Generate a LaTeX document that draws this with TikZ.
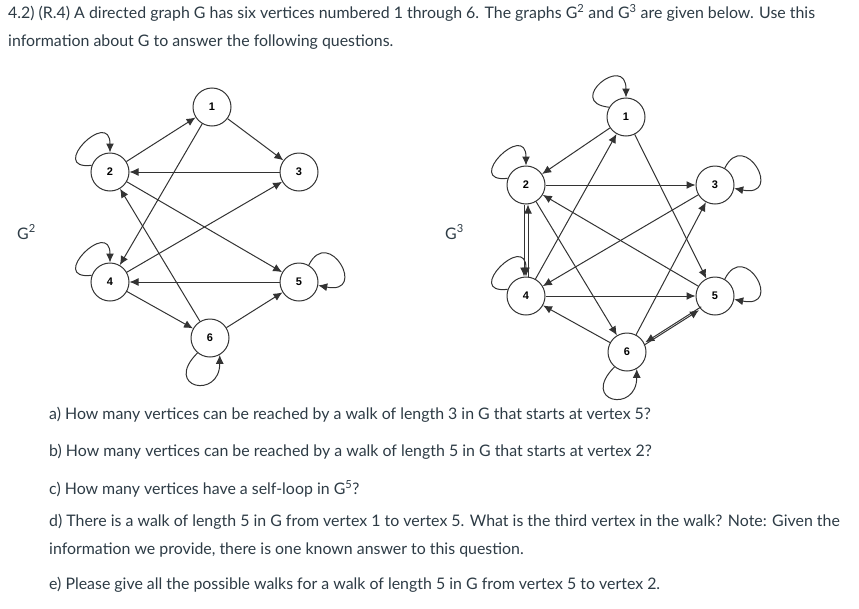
\documentclass[tikz,border=0pt]{standalone}
\usepackage{fontspec}
\setmainfont{Lato}
\newfontfamily\nodefont{Liberation Sans}
\usetikzlibrary{arrows.meta}
\definecolor{txt}{HTML}{2D3B45}
\definecolor{ln}{HTML}{333333}
\begin{document}
\begin{tikzpicture}[x=1pt,y=-1pt,
  v/.style={circle,draw=ln,line width=1pt,minimum size=38pt,inner sep=0pt,font=\nodefont\bfseries\fontsize{11}{11}\selectfont,fill=white},
  e/.style={-{Latex[length=9pt,width=8pt]},line width=1pt,draw=ln},
  t/.style={anchor=west,inner sep=0pt,text=txt,font=\fontsize{15.9}{28}\selectfont}]
\useasboundingbox (0,0) rectangle (859,608);
\node[t,anchor=north west,align=left] (hdr) at (8,4) {4.2) (R.4) A directed graph G has six vertices numbered 1 through 6. The graphs G\textsuperscript{2} and G\textsuperscript{3} are given below. Use this\\ information about G to answer the following questions.};
\node[t] (g2) at (17,232) {G\textsuperscript{2}};
\node[t] (g3) at (445,232) {G\textsuperscript{3}};
% G2
\node[v] (a1) at (212,107) {1};
\node[v] (a2) at (110,172) {2};
\node[v] (a3) at (299,172) {3};
\node[v] (a4) at (110,282) {4};
\node[v] (a5) at (299,282) {5};
\node[v] (a6) at (210,338) {6};
\draw[e] (a2)--(a1); \draw[e] (a1)--(a3); \draw[e] (a3)--(a2);
\draw[e] (a1)--(a4); \draw[e] (a4)--(a3); \draw[e] (a2)--(a5);
\draw[e] (a6)--(a2); \draw[e] (a5)--(a4); \draw[e] (a4)--(a6);
\draw[e] (a6)--(a5);
\draw[e] (a2.160) .. controls +(-45,5) and +(0,-45) .. (a2.north);
\draw[e] (a4.160) .. controls +(-45,5) and +(0,-45) .. (a4.north);
\draw[e] (a5.60) .. controls +(20,-40) and +(50,10) .. (a5.-10);
\draw[e] (a6.-130) .. controls +(-35,35) and +(0,45) .. (a6.-60);
% G3
\node[v] (b1) at (626,117) {1};
\node[v] (b2) at (526,185) {2};
\node[v] (b3) at (715,185) {3};
\node[v] (b4) at (526,296) {4};
\node[v] (b5) at (715,296) {5};
\node[v] (b6) at (627,352) {6};
\draw[e] (b1)--(b2); \draw[e] (b4)--(b1); \draw[e] (b1)--(b5);
\draw[e] (b2)--(b3);
\draw[e] ([xshift=-2pt]b2.south)--([xshift=-2pt]b4.north);
\draw[e] ([xshift=2pt]b4.north)--([xshift=2pt]b2.south);
\draw[e] (b2)--(b6); \draw[e] (b5)--(b2); \draw[e] (b3)--(b4);
\draw[e] (b6)--(b3); \draw[e] (b4)--(b5); \draw[e] (b6)--(b4);
\draw[e] ([yshift=-3pt]b6.30)--([yshift=-3pt]b5.215);
\draw[e] ([yshift=3pt]b5.225)--([yshift=3pt]b6.20);
\draw[e] (b1.150) .. controls +(-45,-5) and +(0,-45) .. (b1.north);
\draw[e] (b2.160) .. controls +(-45,5) and +(0,-45) .. (b2.north);
\draw[e] (b4.160) .. controls +(-45,5) and +(0,-45) .. (b4.north);
\draw[e] (b3.60) .. controls +(20,-40) and +(50,10) .. (b3.-10);
\draw[e] (b5.60) .. controls +(20,-40) and +(50,10) .. (b5.-10);
\draw[e] (b6.-130) .. controls +(-35,35) and +(0,45) .. (b6.-60);
% questions
\node[t] (qa) at (49,415) {a) How many vertices can be reached by a walk of length 3 in G that starts at vertex 5?};
\node[t] (qb) at (49,452) {b) How many vertices can be reached by a walk of length 5 in G that starts at vertex 2?};
\node[t] (qc) at (49,489) {c) How many vertices have a self-loop in G\textsuperscript{5}?};
\node[t,anchor=north west,align=left] (qd) at (49,514) {d) There is a walk of length 5 in G from vertex 1 to vertex 5. What is the third vertex in the walk? Note: Given the\\ information we provide, there is one known answer to this question.};
\node[t] (qe) at (49,585) {e) Please give all the possible walks for a walk of length 5 in G from vertex 5 to vertex 2.};
\end{tikzpicture}
\end{document}
